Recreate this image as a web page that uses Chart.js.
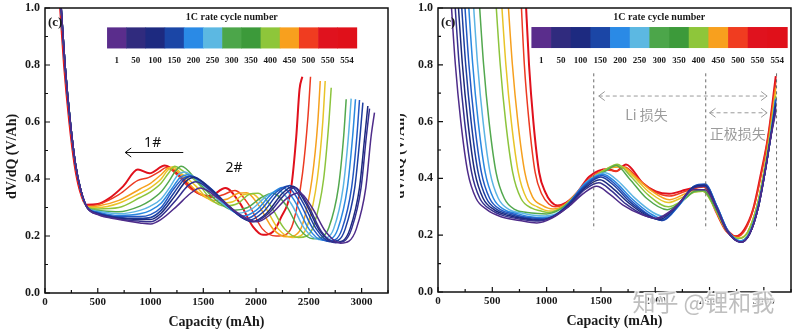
<!DOCTYPE html>
<html>
<head>
<meta charset="utf-8">
<script src="https://cdn.jsdelivr.net/npm/chart.js@4.4.0/dist/chart.umd.min.js"></script>
<style>
html, body { margin: 0; padding: 0; background: #fff; }
#wrap { position: relative; width: 801px; height: 335px; overflow: hidden; background: #fff; }
#left { position: absolute; left: 0; top: 0; }
#rwrap { position: absolute; left: 400px; top: 0; width: 401px; height: 335px; overflow: hidden; }
#right { position: absolute; left: -8px; top: 0; }
</style>
</head>
<body>
<div id="wrap">
  <canvas id="left" width="400" height="335"></canvas>
  <div id="rwrap"><canvas id="right" width="409" height="335"></canvas></div>
</div>
<script>
// ---- axes / legend ----
const xTicks = [0, 500, 1000, 1500, 2000, 2500, 3000];
const xMinorTicks = [250, 750, 1250, 1750, 2250, 2750, 3250];
const yTicks = [0, 0.2, 0.4, 0.6, 0.8, 1.0];
const yMinorTicks = [0.1, 0.3, 0.5, 0.7, 0.9];
const cycleLabels = ['1', '50', '100', '150', '200', '250', '300', '350', '400', '450', '500', '550', '554'];
const barColors = ['#5a2d8c', '#302b7e', '#1d2a80', '#1b46a6', '#2a8ae6', '#5cb8e2', '#4ca64a', '#3c9a3a', '#8ec63a', '#f8a01e', '#f03c20', '#e0121e', '#e0101a'];
const curveColors = ['#4e2c8a', '#34308f', '#1c2a7e', '#1d3ea0', '#2258c2', '#2a88e0', '#5cb4e4', '#52a84e', '#8cc43c', '#e8c428', '#f6a01e', '#ec3a22', '#e0101c'];

// ---- left panel: dV/dQ vs capacity, one curve per cycle ----
const leftCyc1 = [[150,1.02],[190,.8],[240,.6],[290,.45],[340,.36],[400,.3],[500,.275],[700,.258],[900,.246],[1000,.242],[1100,.258],[1250,.305],[1380,.35],[1470,.368],[1650,.33],[1850,.275],[2010,.25],[2150,.28],[2300,.335],[2410,.352],[2530,.3],[2660,.215],[2800,.175],[2880,.182],[2950,.225],[3040,.37],[3090,.55],[3122,.633]];
const leftCyc50 = [[150,1.02],[190,.8],[240,.6],[290,.45],[340,.36],[400,.3],[500,.277],[700,.26],[900,.252],[1000,.25],[1100,.27],[1250,.33],[1350,.375],[1430,.39],[1600,.35],[1800,.285],[1980,.25],[2120,.28],[2270,.345],[2370,.37],[2490,.31],[2620,.215],[2755,.176],[2835,.182],[2905,.225],[2995,.37],[3045,.55],[3075,.647]];
const leftCyc100 = [[150,1.02],[190,.8],[240,.6],[290,.45],[340,.36],[400,.3],[500,.278],[700,.262],[900,.258],[1000,.258],[1100,.28],[1230,.34],[1330,.39],[1410,.405],[1580,.36],[1780,.29],[1960,.25],[2100,.28],[2250,.35],[2350,.375],[2470,.315],[2600,.22],[2740,.178],[2820,.183],[2890,.225],[2980,.37],[3030,.55],[3059,.656]];
const leftCyc150 = [[150,1.02],[190,.8],[240,.6],[290,.45],[340,.36],[400,.3],[500,.28],[700,.265],[900,.262],[1000,.265],[1100,.29],[1220,.35],[1310,.395],[1390,.41],[1560,.37],[1760,.3],[1930,.255],[2070,.285],[2210,.35],[2320,.377],[2440,.32],[2570,.225],[2700,.18],[2780,.185],[2845,.225],[2935,.37],[2985,.55],[3012,.668]];
const leftCyc200 = [[150,1.02],[190,.8],[240,.6],[290,.45],[340,.36],[400,.3],[500,.282],[700,.268],[900,.268],[1000,.275],[1100,.3],[1210,.36],[1300,.4],[1370,.41],[1540,.375],[1740,.305],[1900,.26],[2040,.29],[2180,.35],[2290,.375],[2410,.32],[2540,.225],[2670,.182],[2750,.187],[2815,.225],[2905,.37],[2955,.55],[2980,.677]];
const leftCyc250 = [[150,1.02],[190,.8],[240,.6],[290,.45],[340,.36],[400,.3],[500,.284],[700,.272],[900,.278],[1000,.29],[1100,.315],[1200,.365],[1280,.405],[1350,.415],[1520,.375],[1710,.31],[1870,.27],[2000,.29],[2140,.345],[2250,.37],[2370,.32],[2500,.225],[2630,.185],[2710,.19],[2775,.225],[2865,.37],[2915,.55],[2942,.68]];
const leftCyc300 = [[150,1.02],[190,.8],[240,.6],[290,.45],[340,.36],[400,.3],[500,.287],[700,.278],[900,.29],[1000,.305],[1100,.33],[1190,.375],[1260,.415],[1320,.425],[1490,.38],[1680,.315],[1830,.28],[1960,.295],[2100,.34],[2210,.36],[2330,.315],[2460,.225],[2590,.188],[2670,.193],[2735,.225],[2825,.37],[2875,.55],[2901,.682]];
const leftCyc350 = [[150,1.02],[190,.8],[240,.6],[290,.45],[340,.36],[400,.3],[500,.29],[700,.285],[900,.305],[1000,.325],[1100,.355],[1180,.395],[1240,.43],[1290,.445],[1450,.39],[1640,.32],[1790,.29],[1920,.3],[2050,.335],[2160,.35],[2280,.31],[2410,.225],[2540,.19],[2620,.195],[2690,.23],[2780,.37],[2830,.55],[2854,.68]];
const leftCyc400 = [[150,1.02],[190,.8],[240,.6],[290,.45],[340,.36],[400,.3],[500,.295],[700,.3],[900,.335],[1000,.355],[1100,.385],[1170,.42],[1230,.445],[1300,.43],[1450,.385],[1570,.33],[1700,.305],[1830,.315],[1930,.345],[2020,.35],[2130,.31],[2270,.225],[2400,.195],[2480,.2],[2550,.24],[2640,.4],[2690,.6],[2712,.72]];
const leftCyc450 = [[150,1.02],[190,.8],[240,.6],[290,.45],[340,.36],[400,.302],[500,.3],[700,.315],[900,.35],[1000,.37],[1100,.4],[1160,.43],[1210,.443],[1290,.42],[1430,.375],[1530,.335],[1650,.315],[1780,.32],[1880,.345],[1960,.348],[2070,.31],[2210,.225],[2340,.195],[2420,.2],[2490,.24],[2580,.4],[2632,.6],[2655,.744]];
const leftCyc500 = [[150,1.02],[190,.8],[240,.6],[290,.45],[340,.36],[400,.303],[500,.305],[700,.325],[900,.365],[1000,.385],[1100,.415],[1180,.44],[1260,.425],[1400,.37],[1500,.34],[1610,.325],[1730,.33],[1830,.35],[1910,.352],[2020,.31],[2160,.225],[2290,.197],[2370,.202],[2440,.24],[2530,.4],[2585,.6],[2608,.744]];
const leftCyc550 = [[145,1.02],[185,.8],[235,.6],[285,.45],[335,.36],[395,.305],[500,.31],[700,.345],[880,.395],[980,.405],[1080,.425],[1150,.44],[1250,.415],[1380,.365],[1480,.345],[1580,.335],[1690,.345],[1800,.36],[1930,.31],[2060,.225],[2190,.2],[2280,.205],[2350,.245],[2440,.42],[2492,.62],[2516,.759]];
const leftCyc554 = [[140,1.02],[180,.8],[230,.6],[280,.45],[330,.36],[390,.31],[500,.312],[600,.33],[740,.374],[880,.433],[990,.42],[1135,.447],[1280,.41],[1440,.352],[1560,.34],[1710,.368],[1845,.316],[1970,.233],[2066,.204],[2160,.215],[2230,.26],[2334,.374],[2381,.55],[2412,.715],[2438,.759]];

// ---- right panel: same cycles, aligned at end of charge ----
const rightCyc1 = [[116,1.05],[160,.8],[210,.6],[275,.42],[350,.33],[450,.29],[580,.265],[750,.252],[910,.243],[1050,.26],[1200,.3],[1350,.35],[1460,.372],[1580,.345],[1700,.307],[1880,.272],[2006,.26],[2190,.3],[2350,.36],[2460,.36],[2560,.3],[2660,.215],[2790,.175],[2870,.205],[2950,.3],[3010,.42],[3060,.537],[3110,.633]];
const rightCyc50 = [[150,1.05],[195,.8],[245,.6],[310,.42],[385,.33],[485,.29],[610,.268],[770,.256],[925,.25],[1060,.265],[1200,.3],[1350,.36],[1480,.385],[1600,.355],[1730,.31],[1900,.27],[2020,.258],[2190,.3],[2350,.365],[2455,.372],[2560,.3],[2660,.215],[2790,.175],[2870,.205],[2950,.3],[3010,.42],[3060,.537],[3110,.647]];
const rightCyc100 = [[180,1.05],[225,.8],[275,.6],[340,.42],[415,.33],[515,.29],[640,.27],[790,.258],[935,.252],[1070,.268],[1200,.305],[1350,.365],[1490,.395],[1610,.365],[1750,.315],[1920,.27],[2040,.255],[2200,.305],[2350,.368],[2455,.375],[2560,.3],[2660,.215],[2790,.175],[2870,.205],[2950,.3],[3010,.42],[3060,.537],[3110,.656]];
const rightCyc150 = [[210,1.05],[255,.8],[305,.6],[370,.42],[445,.33],[545,.29],[670,.272],[810,.26],[950,.255],[1080,.27],[1200,.31],[1350,.37],[1500,.405],[1620,.375],[1760,.32],[1940,.27],[2060,.252],[2210,.305],[2350,.37],[2455,.378],[2565,.3],[2665,.215],[2790,.176],[2870,.205],[2950,.3],[3010,.42],[3060,.537],[3110,.668]];
const rightCyc200 = [[240,1.05],[285,.8],[335,.6],[400,.42],[475,.33],[575,.29],[700,.274],[830,.262],[960,.258],[1090,.272],[1200,.31],[1350,.375],[1510,.41],[1630,.38],[1770,.325],[1950,.27],[2070,.252],[2215,.305],[2355,.372],[2460,.38],[2570,.3],[2670,.215],[2790,.176],[2870,.205],[2950,.3],[3010,.42],[3060,.537],[3110,.677]];
const rightCyc250 = [[275,1.05],[320,.8],[370,.6],[435,.42],[510,.33],[610,.29],[730,.276],[850,.265],[980,.262],[1100,.275],[1200,.31],[1350,.38],[1520,.415],[1640,.385],[1780,.33],[1960,.275],[2080,.256],[2220,.305],[2355,.372],[2460,.378],[2570,.3],[2670,.215],[2785,.18],[2865,.205],[2945,.3],[3008,.42],[3058,.537],[3110,.68]];
const rightCyc300 = [[320,1.05],[365,.8],[415,.6],[480,.42],[555,.33],[655,.29],[770,.278],[880,.27],[990,.268],[1110,.28],[1210,.315],[1360,.385],[1540,.42],[1660,.39],[1800,.335],[1980,.28],[2090,.265],[2230,.31],[2360,.37],[2460,.375],[2570,.3],[2670,.215],[2785,.18],[2865,.205],[2945,.3],[3008,.42],[3058,.537],[3110,.682]];
const rightCyc350 = [[375,1.05],[420,.8],[470,.6],[535,.42],[610,.33],[710,.29],[820,.28],[920,.276],[1000,.275],[1120,.29],[1250,.33],[1400,.39],[1560,.43],[1640,.445],[1760,.4],[1920,.33],[2110,.29],[2250,.32],[2360,.355],[2445,.358],[2560,.29],[2665,.215],[2780,.18],[2860,.205],[2945,.3],[3008,.42],[3058,.537],[3110,.68]];
const rightCyc400 = [[528,1.05],[573,.8],[623,.6],[688,.42],[763,.33],[863,.295],[950,.285],[1020,.28],[1130,.295],[1250,.335],[1400,.395],[1560,.435],[1650,.45],[1780,.405],[1940,.34],[2120,.3],[2260,.325],[2360,.352],[2440,.355],[2555,.29],[2660,.215],[2770,.188],[2850,.21],[2935,.3],[3000,.42],[3055,.55],[3110,.69]];
const rightCyc450 = [[580,1.05],[625,.8],[675,.6],[740,.42],[815,.33],[915,.3],[1040,.285],[1150,.3],[1260,.34],[1400,.395],[1560,.435],[1665,.445],[1790,.41],[1950,.35],[2120,.315],[2260,.335],[2360,.352],[2440,.355],[2555,.29],[2660,.215],[2770,.19],[2850,.21],[2935,.3],[3000,.42],[3055,.55],[3110,.7]];
const rightCyc500 = [[640,1.05],[685,.8],[735,.6],[800,.42],[870,.335],[960,.305],[1060,.292],[1160,.305],[1270,.345],[1410,.4],[1570,.435],[1700,.44],[1820,.405],[1970,.355],[2130,.325],[2270,.345],[2360,.358],[2440,.36],[2555,.29],[2660,.215],[2770,.19],[2850,.21],[2935,.3],[3000,.42],[3055,.56],[3110,.72]];
const rightCyc550 = [[762,1.05],[795,.8],[838,.6],[895,.42],[955,.345],[1020,.31],[1080,.3],[1170,.31],[1280,.35],[1410,.405],[1560,.43],[1640,.425],[1720,.44],[1850,.395],[2000,.352],[2130,.338],[2280,.355],[2400,.368],[2445,.37],[2560,.28],[2650,.215],[2750,.195],[2830,.22],[2910,.3],[2985,.43],[3045,.56],[3110,.74]];
const rightCyc554 = [[805,1.05],[838,.8],[878,.6],[932,.42],[990,.35],[1040,.318],[1100,.305],[1180,.315],[1280,.35],[1394,.407],[1563,.433],[1639,.425],[1731,.449],[1884,.384],[2006,.354],[2128,.346],[2281,.36],[2404,.372],[2440,.374],[2617,.243],[2740,.196],[2820,.22],[2900,.29],[2980,.43],[3040,.55],[3110,.76]];

const leftSeries = [leftCyc1, leftCyc50, leftCyc100, leftCyc150, leftCyc200, leftCyc250, leftCyc300, leftCyc350, leftCyc400, leftCyc450, leftCyc500, leftCyc550, leftCyc554];
const rightSeries = [rightCyc1, rightCyc50, rightCyc100, rightCyc150, rightCyc200, rightCyc250, rightCyc300, rightCyc350, rightCyc400, rightCyc450, rightCyc500, rightCyc550, rightCyc554];

const SERIF = '"Liberation Serif", "Times New Roman", serif';
const SANS = '"Noto Sans", "Liberation Sans", sans-serif';
const CJK = '"Noto Sans CJK SC", "Noto Sans", sans-serif';

const buildSets = function (series) {
    return series.map((d, i) => ({
        label: cycleLabels[i],
        data: d,
        borderColor: curveColors[i],
        borderWidth: i === series.length - 1 ? 2 : 1.5,
        pointRadius: 0,
        fill: false,
        cubicInterpolationMode: 'monotone'
    }));
}

const arrowHead = function (ctx, x, y, dir, s) {
    ctx.beginPath();
    ctx.moveTo(x - dir * s, y - s * 0.75);
    ctx.lineTo(x, y);
    ctx.lineTo(x - dir * s, y + s * 0.75);
    ctx.stroke();
}

// frame, inward ticks, labels, colour bar and notes
const decor = {
    id: 'decor',
    afterDatasetsDraw(chart, args, o) {
        const ctx = chart.ctx, ca = chart.chartArea;
        const sx = chart.scales.x, sy = chart.scales.y;
        ctx.save();
        // colour bar
        const b = o.bar;
        const bx0 = sx.getPixelForValue(b.x0), bx1 = sx.getPixelForValue(b.x1);
        const by0 = sy.getPixelForValue(b.top), by1 = sy.getPixelForValue(b.bottom);
        const w = (bx1 - bx0) / barColors.length;
        barColors.forEach((c, i) => {
            ctx.fillStyle = c;
            ctx.fillRect(bx0 + i * w, by0, w + 0.6, by1 - by0);
        });
        ctx.fillStyle = '#1a1a1a';
        ctx.textAlign = 'center';
        ctx.textBaseline = 'middle';
        ctx.font = 'bold 10px ' + SERIF;
        ctx.fillText('1C rate cycle number', (bx0 + bx1) / 2, sy.getPixelForValue(b.titleY));
        ctx.font = 'bold 9px ' + SERIF;
        cycleLabels.forEach((l, i) => {
            ctx.fillText(l, bx0 + (i + 0.5) * w, sy.getPixelForValue(b.labelY));
        });
        // frame
        ctx.strokeStyle = '#111';
        ctx.lineWidth = 1.5;
        ctx.strokeRect(ca.left, ca.top, ca.right - ca.left, ca.bottom - ca.top);
        ctx.lineWidth = 1.2;
        ctx.beginPath();
        xTicks.forEach(v => { const p = sx.getPixelForValue(v); ctx.moveTo(p, ca.bottom); ctx.lineTo(p, ca.bottom - 5); });
        xMinorTicks.forEach(v => { const p = sx.getPixelForValue(v); ctx.moveTo(p, ca.bottom); ctx.lineTo(p, ca.bottom - 3); });
        yTicks.forEach(v => { const p = sy.getPixelForValue(v); ctx.moveTo(ca.left, p); ctx.lineTo(ca.left + 5, p); });
        yMinorTicks.forEach(v => { const p = sy.getPixelForValue(v); ctx.moveTo(ca.left, p); ctx.lineTo(ca.left + 3, p); });
        ctx.stroke();
        // tick labels
        ctx.fillStyle = '#1a1a1a';
        ctx.font = 'bold 12px ' + SERIF;
        ctx.textAlign = 'right';
        yTicks.forEach(v => ctx.fillText(v.toFixed(1), ca.left - 5, sy.getPixelForValue(v)));
        ctx.font = 'bold 11px ' + SERIF;
        ctx.textAlign = 'center';
        ctx.textBaseline = 'top';
        xTicks.forEach(v => ctx.fillText(String(v), sx.getPixelForValue(v), ca.bottom + 4));
        // axis titles
        ctx.font = 'bold 14px ' + SERIF;
        ctx.textBaseline = 'middle';
        ctx.fillText('Capacity (mAh)', (ca.left + ca.right) / 2, ca.bottom + 29);
        ctx.save();
        ctx.translate(o.yTitleX, (ca.top + ca.bottom) / 2 + 6);
        ctx.rotate(-Math.PI / 2);
        ctx.fillText('dV/dQ (V/Ah)', 0, 0);
        ctx.restore();
        // panel tag
        ctx.font = 'bold 13px ' + SERIF;
        ctx.textAlign = 'left';
        ctx.fillText('(c)', ca.left + 3, ca.top + 15);
        if (o.draw) o.draw(ctx, ca, sx, sy);
        ctx.restore();
    }
};

const makeChart = function (el, series, padRight, yWidth, xHeight, decorOpts) {
    return new Chart(el, {
        type: 'line',
        data: { datasets: buildSets(series) },
        options: {
            responsive: false,
            animation: false,
            devicePixelRatio: 1,
            layout: { padding: { top: 8, right: padRight, left: 0, bottom: 0 } },
            plugins: { legend: { display: false }, tooltip: { enabled: false }, decor: decorOpts },
            scales: {
                x: {
                    type: 'linear', min: 0, max: 3250,
                    grid: { display: false }, border: { display: false },
                    ticks: { display: false },
                    afterFit: s => { s.height = xHeight; }
                },
                y: {
                    type: 'linear', min: 0, max: 1.0,
                    grid: { display: false }, border: { display: false },
                    ticks: { display: false },
                    afterFit: s => { s.width = yWidth; }
                }
            }
        },
        plugins: [decor]
    });
}

makeChart(document.getElementById('left'), leftSeries, 12, 45, 42, {
    bar: { x0: 588, x1: 2952, top: 0.932, bottom: 0.858, titleY: 0.966, labelY: 0.815 },
    yTitleX: 12,
    draw: (ctx, ca, sx, sy) => {
        ctx.strokeStyle = '#111';
        ctx.lineWidth = 1;
        const ay = sy.getPixelForValue(0.493);
        const a0 = sx.getPixelForValue(760), a1 = sx.getPixelForValue(1310);
        ctx.beginPath(); ctx.moveTo(a0, ay); ctx.lineTo(a1, ay); ctx.stroke();
        arrowHead(ctx, a0, ay, -1, 6);
        ctx.fillStyle = '#111';
        ctx.font = '14px ' + SANS;
        ctx.textAlign = 'center';
        ctx.textBaseline = 'middle';
        ctx.fillText('1#', sx.getPixelForValue(1020), sy.getPixelForValue(0.528));
        ctx.fillText('2#', sx.getPixelForValue(1790), sy.getPixelForValue(0.44));
    }
});

makeChart(document.getElementById('right'), rightSeries, 10, 46, 43, {
    bar: { x0: 860, x1: 3214, top: 0.933, bottom: 0.859, titleY: 0.966, labelY: 0.815 },
    yTitleX: 8,
    draw: (ctx, ca, sx, sy) => {
        const top = sy.getPixelForValue(0.77), bot = sy.getPixelForValue(0.22);
        ctx.strokeStyle = '#6a6a6a';
        ctx.lineWidth = 1;
        ctx.setLineDash([3, 3]);
        [1434, 2465, 3117].forEach(v => {
            const p = sx.getPixelForValue(v);
            ctx.beginPath(); ctx.moveTo(p, top); ctx.lineTo(p, bot); ctx.stroke();
        });
        ctx.strokeStyle = '#9a9a9a';
        [[1480, 3030, 0.69], [2500, 3030, 0.631]].forEach(a => {
            const p0 = sx.getPixelForValue(a[0]), p1 = sx.getPixelForValue(a[1]), y = sy.getPixelForValue(a[2]);
            ctx.setLineDash([4, 3]);
            ctx.beginPath(); ctx.moveTo(p0, y); ctx.lineTo(p1, y); ctx.stroke();
            ctx.setLineDash([]);
            arrowHead(ctx, p0, y, -1, 6);
            arrowHead(ctx, p1, y, 1, 6);
        });
        ctx.fillStyle = '#9c9c9c';
        ctx.font = '14px ' + CJK;
        ctx.textAlign = 'center';
        ctx.textBaseline = 'middle';
        ctx.fillText('Li 损失', sx.getPixelForValue(1920), sy.getPixelForValue(0.625));
        ctx.fillText('正极损失', sx.getPixelForValue(2760), sy.getPixelForValue(0.558));
        // site watermark
        ctx.font = '23px ' + CJK;
        ctx.textAlign = 'left';
        ctx.lineWidth = 3;
        ctx.strokeStyle = 'rgba(255,255,255,0.85)';
        ctx.strokeText('知乎 @锂和我', sx.getPixelForValue(1790), ca.bottom + 10);
        ctx.fillStyle = 'rgba(175,175,175,0.8)';
        ctx.fillText('知乎 @锂和我', sx.getPixelForValue(1790), ca.bottom + 10);
    }
});
</script>
</body>
</html>
